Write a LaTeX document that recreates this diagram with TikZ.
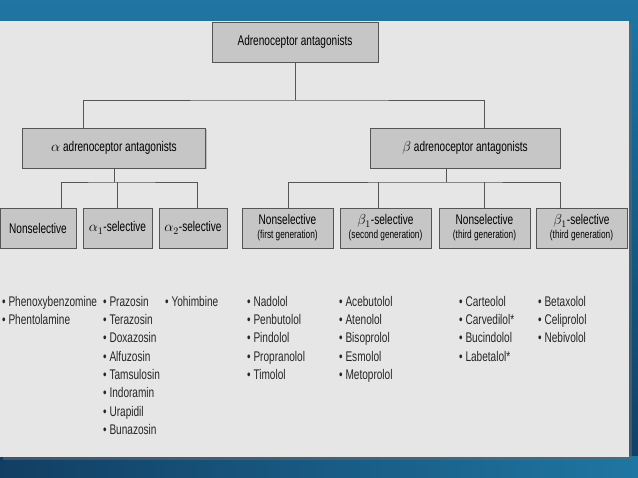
\documentclass[tikz,border=0pt]{standalone}
\usepackage{fontspec}
\setmainfont[FakeStretch=0.72]{Liberation Sans}
\usetikzlibrary{shadows}
\definecolor{bgdark}{HTML}{123E63}
\definecolor{bgmid}{HTML}{1F76A2}
\definecolor{paper}{HTML}{E6E6E6}
\definecolor{boxfill}{HTML}{C6C6C6}
\definecolor{boxline}{HTML}{555555}
\tikzset{
  box/.style={draw=boxline, fill=boxfill, line width=0.8pt, align=center, inner sep=0pt,
    font=\fontsize{14}{15}\selectfont, drop shadow={shadow xshift=1pt, shadow yshift=-1pt, opacity=0.4}},
  sbox/.style={box, font=\fontsize{14}{14}\selectfont},
  conn/.style={draw=boxline, line width=0.8pt},
  lst/.style={anchor=north west, align=left, inner sep=0pt, font=\fontsize{14}{18.3}\selectfont, text=black!85}
}
\begin{document}
\begin{tikzpicture}[x=1pt,y=-1pt]
\useasboundingbox (0,0) rectangle (638,478);
\shade[top color=bgmid, bottom color=bgdark] (0,0) rectangle (638,478);
\shade[left color=bgdark, right color=bgmid] (0,457) rectangle (638,478);
\fill[black!60, opacity=0.6] (3,24) rectangle (632,460);
\fill[paper] (0,21) rectangle (629,457);
% boxes
\node[box, minimum width=166pt, minimum height=40pt] (top) at (295,42) {Adrenoceptor antagonists};
\node[box, minimum width=183pt, minimum height=40pt] (alpha) at (114,148) {$\alpha$ adrenoceptor antagonists};
\node[box, minimum width=190pt, minimum height=40pt] (beta) at (465,148) {$\beta$ adrenoceptor antagonists};
\node[box, minimum width=76pt, minimum height=40pt] (a0) at (38,228) {Nonselective};
\node[box, minimum width=69pt, minimum height=40pt] (a1) at (117.5,228) {$\alpha_1$-selective};
\node[box, minimum width=68pt, minimum height=40pt] (a2) at (193,228) {$\alpha_2$-selective};
\node[sbox, minimum width=91pt, minimum height=40pt] (b0) at (287.5,228) {Nonselective\\{\fontsize{11.5}{12}\selectfont(first generation)}};
\node[sbox, minimum width=91pt, minimum height=40pt] (b1) at (385.5,228) {$\beta_1$-selective\\{\fontsize{11.5}{12}\selectfont(second generation)}};
\node[sbox, minimum width=91pt, minimum height=40pt] (b2) at (484.5,228) {Nonselective\\{\fontsize{11.5}{12}\selectfont(third generation)}};
\node[sbox, minimum width=91pt, minimum height=40pt] (b3) at (581.5,228) {$\beta_1$-selective\\{\fontsize{11.5}{12}\selectfont(third generation)}};
% connectors
\coordinate (t1) at (295,100);
\coordinate (ab) at (114,182);
\coordinate (bb) at (446,182);
\draw[conn] (top.south) -- (t1);
\draw[conn] (alpha.north -| 83,0) |- (t1) -| (beta.north -| 484,0);
\draw[conn] (alpha.south) -- (ab);
\draw[conn] (a0.north -| 61,0) |- (ab) -| (a2.north -| 197,0);
\draw[conn] (ab -| a1.north) -- (a1.north);
\draw[conn] (beta.south -| bb) -- (bb);
\draw[conn] (b0.north -| 288,0) |- (bb) -| (b3.north -| 560,0);
\draw[conn] (bb -| 378,0) -- (b1.north -| 378,0);
\draw[conn] (bb -| 484,0) -- (b2.north -| 484,0);
% lists
\node[lst] (l0) at (2,296) {• Phenoxybenzomine\\• Phentolamine};
\node[lst] (l1) at (103,296) {• Prazosin\\• Terazosin\\• Doxazosin\\• Alfuzosin\\• Tamsulosin\\• Indoramin\\• Urapidil\\• Bunazosin};
\node[lst] (l2) at (165,296) {• Yohimbine};
\node[lst] (l3) at (247,296) {• Nadolol\\• Penbutolol\\• Pindolol\\• Propranolol\\• Timolol};
\node[lst] (l4) at (339,296) {• Acebutolol\\• Atenolol\\• Bisoprolol\\• Esmolol\\• Metoprolol};
\node[lst] (l5) at (459,296) {• Carteolol\\• Carvedilol*\\• Bucindolol\\• Labetalol*};
\node[lst] (l6) at (538,296) {• Betaxolol\\• Celiprolol\\• Nebivolol};
\end{tikzpicture}
\end{document}
